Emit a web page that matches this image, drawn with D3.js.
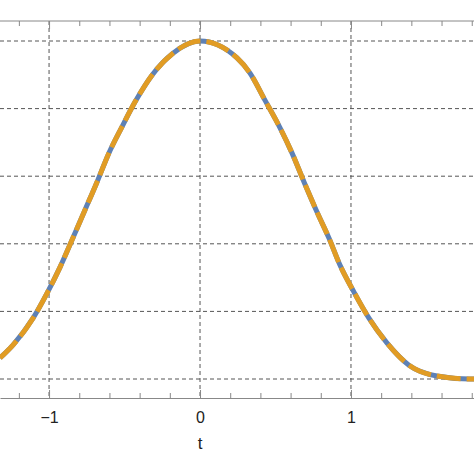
<!DOCTYPE html>
<html><head><meta charset="utf-8">
<script src="https://cdn.jsdelivr.net/npm/d3@7"></script>
<style>body{margin:0;background:#fff}</style></head>
<body><svg id="c" width="474" height="474"></svg>
<script>
const tVals=[-1.325,-1.238,-1.106,-1.013,-0.927,-0.848,-0.762,-0.682,-0.609,-0.517,-0.430,-0.318,-0.179,0,0.245,0.331,0.430,0.530,0.609,0.689,0.775,0.854,0.927,1.020,1.119,1.238,1.384,1.570,1.788,1.83];
const yVals=[0.062,0.101,0.180,0.254,0.331,0.411,0.500,0.583,0.663,0.746,0.820,0.899,0.964,1.0,0.950,0.905,0.825,0.743,0.669,0.583,0.494,0.417,0.337,0.257,0.180,0.107,0.041,0.009,0.0,0.0];
const xMajor=[-1,0,1];
const xMinor=[-1.2,-0.8,-0.6,-0.4,-0.2,0.2,0.4,0.6,0.8,1.2,1.4,1.6,1.8];
const yGrid=[0,0.2,0.4,0.6,0.8,1.0];
const svg=d3.select("#c");
const x=d3.scaleLinear().domain([-1.325,1.815]).range([0,474]);
const y=d3.scaleLinear().domain([0,1]).range([379,41]);
const frameTop=21,frameBot=398;
const g=svg.append("g");
yGrid.forEach(v=>g.append("line").attr("x1",0).attr("x2",474).attr("y1",y(v)).attr("y2",y(v)).attr("stroke","#555").attr("stroke-width",1).attr("stroke-dasharray","4,3"));
xMajor.forEach(v=>g.append("line").attr("x1",x(v)).attr("x2",x(v)).attr("y1",frameTop).attr("y2",frameBot).attr("stroke","#555").attr("stroke-width",1).attr("stroke-dasharray","4,3"));
svg.append("line").attr("x1",0).attr("x2",474).attr("y1",frameTop).attr("y2",frameTop).attr("stroke","#888");
const ax=svg.append("g").attr("transform",`translate(0,${frameBot})`).call(d3.axisBottom(x).tickValues(xMajor).tickSizeInner(-8).tickSizeOuter(0).tickPadding(14).tickFormat(d=>d<0?"\u2212"+Math.abs(d):d));
ax.select(".domain").attr("stroke","#888");
ax.selectAll(".tick line").attr("stroke","#888");
ax.selectAll("text").attr("font-family","Liberation Sans, Arial").attr("font-size",16).attr("fill","#222");
const ax2=svg.append("g").attr("transform",`translate(0,${frameBot})`).call(d3.axisBottom(x).tickValues(xMinor).tickSizeInner(-5).tickSizeOuter(0).tickFormat(""));
ax2.select(".domain").remove();ax2.selectAll(".tick line").attr("stroke","#888");
const ax3=svg.append("g").attr("transform",`translate(0,${frameTop})`).call(d3.axisTop(x).tickValues(xMajor).tickSizeInner(-8).tickSizeOuter(0).tickFormat(""));
ax3.select(".domain").remove();ax3.selectAll(".tick line").attr("stroke","#888");
const ax4=svg.append("g").attr("transform",`translate(0,${frameTop})`).call(d3.axisTop(x).tickValues(xMinor).tickSizeInner(-5).tickSizeOuter(0).tickFormat(""));
ax4.select(".domain").remove();ax4.selectAll(".tick line").attr("stroke","#888");
svg.append("text").attr("x",x(0)).attr("y",449).attr("text-anchor","middle").attr("font-family","Liberation Sans, Arial").attr("font-size",17).attr("fill","#222").text("t");
const data=tVals.map((t,i)=>[t,yVals[i]]);
const line=d3.line().x(d=>x(d[0])).y(d=>y(d[1])).curve(d3.curveMonotoneX);
svg.append("path").datum(data).attr("d",line).attr("fill","none").attr("stroke","#5E81B5").attr("stroke-width",5);
svg.append("path").datum(data).attr("d",line).attr("fill","none").attr("stroke","#E19C24").attr("stroke-width",5).attr("stroke-dasharray","24,6");
</script></body></html>
